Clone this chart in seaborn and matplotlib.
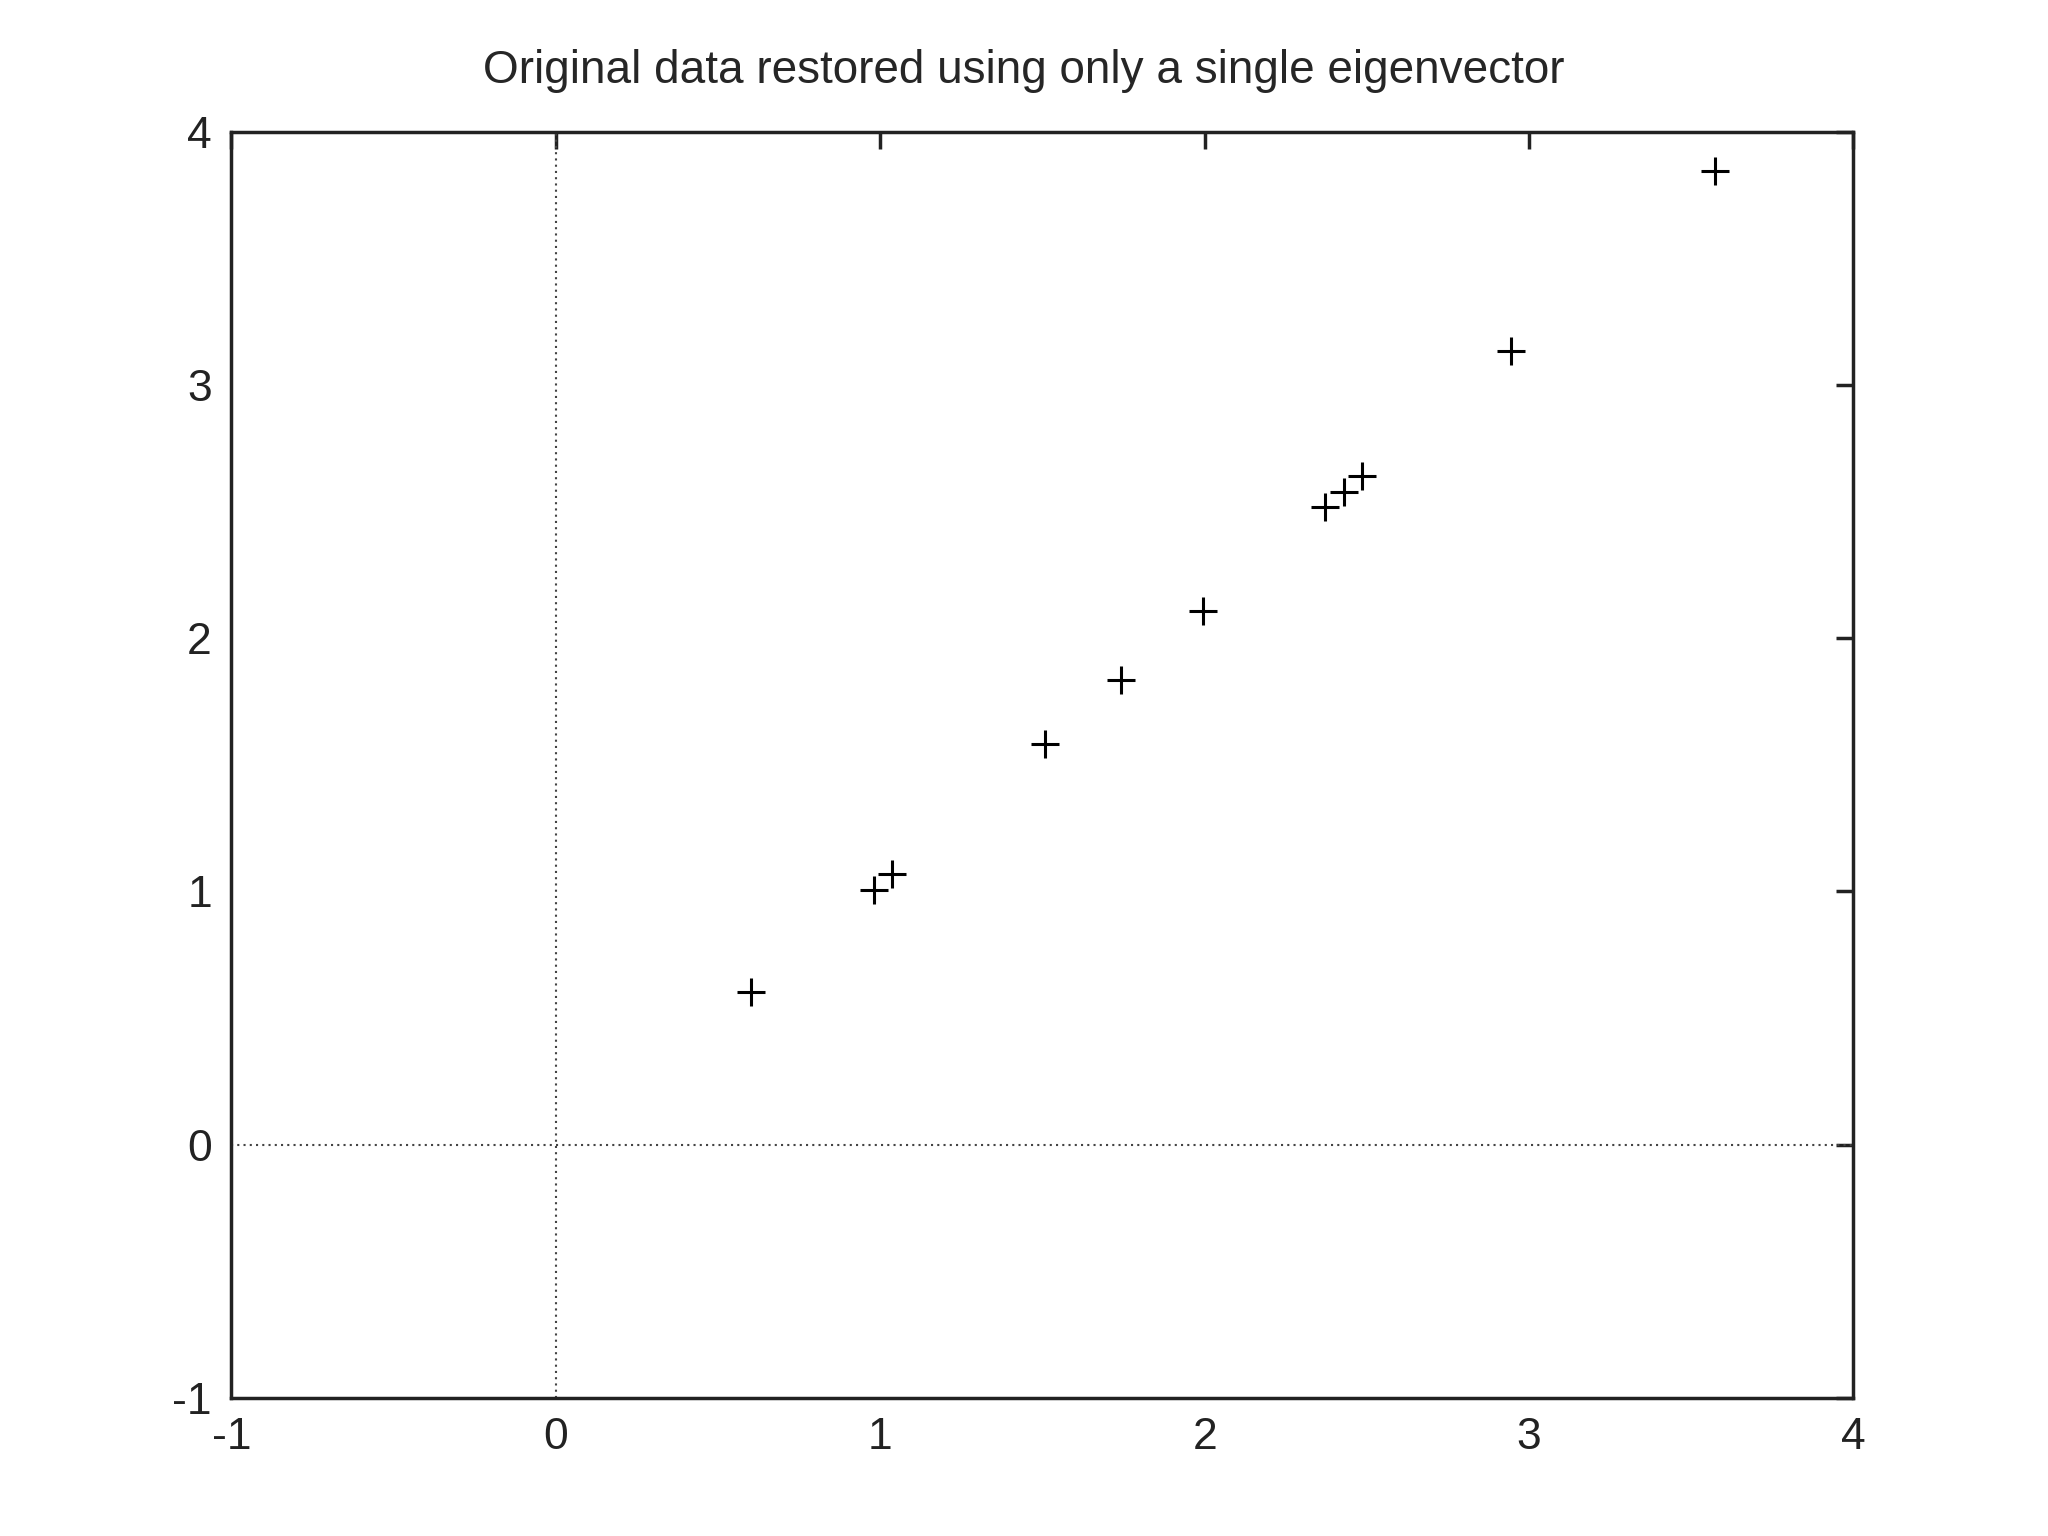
import matplotlib
matplotlib.use("Agg")
import matplotlib.pyplot as plt
import seaborn as sns
import pandas as pd

x_vals = [0.602, 0.981, 1.037, 1.508, 1.742, 1.995, 2.370, 2.430, 2.486, 2.945, 3.573]
y_vals = [0.601, 1.004, 1.071, 1.583, 1.836, 2.110, 2.518, 2.580, 2.642, 3.137, 3.845]
ticks = [-1, 0, 1, 2, 3, 4]

sns.set_style("white")
plt.rcParams['font.family'] = ['Liberation Sans', 'DejaVu Sans']

fig = plt.figure(figsize=(20.48, 15.36), dpi=100)
ax = fig.add_axes([0.113, 0.09, 0.792, 0.824])
df = pd.DataFrame({"x": x_vals, "y": y_vals})
sns.scatterplot(data=df, x="x", y="y", marker="+", s=400, color="black", linewidth=2.2, ax=ax)
ax.axhline(0, color="#444444", linestyle=(0, (1, 2)), linewidth=1.5)
ax.axvline(0, color="#444444", linestyle=(0, (1, 2)), linewidth=1.5)
ax.set_xlim(-1, 4)
ax.set_ylim(-1, 4)
ax.set_xticks(ticks)
ax.set_yticks(ticks)
ax.set_xticklabels([str(t) for t in ticks])
ax.set_yticklabels([str(t) for t in ticks])
ax.tick_params(direction="in", length=12, width=2.5, top=True, right=True, labelsize=32, pad=14, colors="#222222")
for s in ax.spines.values():
    s.set_linewidth(2.5)
    s.set_color("#222222")
ax.set_xlabel("")
ax.set_ylabel("")
fig.suptitle("Original data restored using only a single eigenvector", y=0.968, fontsize=33)
fig.savefig("out.png", dpi=100)
